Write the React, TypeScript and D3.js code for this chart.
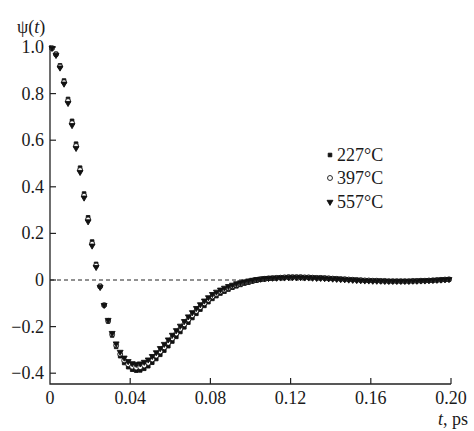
import { useEffect, useRef } from "react";
import * as d3 from "d3";

// sampling times, ps
const times: number[] = d3.range(100).map((k) => 0.001 + 0.002 * k);

const psi227: number[] = [
	0.995, 0.971, 0.921, 0.856, 0.777, 0.683, 0.585, 0.482, 0.371, 0.269,
	0.165, 0.069, -0.025, -0.108, -0.178, -0.238, -0.287, -0.327, -0.356, -0.374,
	-0.385, -0.389, -0.388, -0.381, -0.37, -0.355, -0.339, -0.321, -0.303, -0.284,
	-0.264, -0.244, -0.223, -0.203, -0.183, -0.163, -0.145, -0.127, -0.111, -0.095,
	-0.081, -0.069, -0.058, -0.05, -0.041, -0.033, -0.027, -0.021, -0.015, -0.011,
	-0.006, -0.003, 0.001, 0.003, 0.006, 0.007, 0.009, 0.01, 0.012, 0.013,
	0.013, 0.013, 0.013, 0.012, 0.012, 0.011, 0.01, 0.01, 0.009, 0.008,
	0.007, 0.006, 0.005, 0.004, 0.003, 0.002, 0.001, 0.0, -0.001, -0.002,
	-0.003, -0.003, -0.004, -0.004, -0.005, -0.005, -0.005, -0.005, -0.005, -0.005,
	-0.005, -0.004, -0.004, -0.003, -0.003, -0.002, -0.001, 0.0, 0.001, 0.002,
];

const psi397: number[] = [
	0.995, 0.968, 0.916, 0.849, 0.768, 0.673, 0.575, 0.472, 0.362, 0.26,
	0.156, 0.062, -0.028, -0.108, -0.175, -0.233, -0.28, -0.318, -0.345, -0.362,
	-0.372, -0.376, -0.374, -0.367, -0.356, -0.341, -0.325, -0.307, -0.289, -0.27,
	-0.25, -0.23, -0.21, -0.19, -0.17, -0.151, -0.133, -0.116, -0.1, -0.085,
	-0.071, -0.06, -0.05, -0.042, -0.034, -0.027, -0.021, -0.016, -0.011, -0.007,
	-0.003, 0.0, 0.003, 0.005, 0.007, 0.008, 0.009, 0.01, 0.011, 0.012,
	0.012, 0.012, 0.012, 0.011, 0.011, 0.01, 0.009, 0.009, 0.008, 0.007,
	0.006, 0.005, 0.004, 0.003, 0.002, 0.001, 0.0, -0.001, -0.002, -0.002,
	-0.003, -0.003, -0.004, -0.004, -0.005, -0.005, -0.005, -0.005, -0.005, -0.005,
	-0.004, -0.004, -0.003, -0.003, -0.002, -0.001, 0.0, 0.001, 0.002, 0.003,
];

const psi557: number[] = [
	0.995, 0.965, 0.911, 0.842, 0.759, 0.664, 0.566, 0.463, 0.353, 0.251,
	0.147, 0.055, -0.031, -0.108, -0.172, -0.228, -0.273, -0.309, -0.334, -0.349,
	-0.358, -0.361, -0.359, -0.352, -0.342, -0.327, -0.311, -0.293, -0.275, -0.256,
	-0.236, -0.216, -0.197, -0.177, -0.157, -0.139, -0.121, -0.105, -0.089, -0.075,
	-0.061, -0.051, -0.042, -0.034, -0.027, -0.021, -0.015, -0.011, -0.007, -0.003,
	0.0, 0.003, 0.005, 0.007, 0.008, 0.009, 0.009, 0.01, 0.01, 0.011,
	0.011, 0.011, 0.011, 0.01, 0.01, 0.009, 0.008, 0.008, 0.007, 0.006,
	0.005, 0.004, 0.003, 0.002, 0.001, 0.0, -0.001, -0.002, -0.003, -0.003,
	-0.004, -0.004, -0.004, -0.005, -0.005, -0.005, -0.005, -0.005, -0.005, -0.005,
	-0.004, -0.004, -0.003, -0.003, -0.002, -0.001, 0.0, 0.001, 0.002, 0.003,
];

const legendLabels = ["227°C", "397°C", "557°C"];
const xTicks = [0, 0.04, 0.08, 0.12, 0.16, 0.2];
const xTickLabels = ["0", "0.04", "0.08", "0.12", "0.16", "0.20"];
const yTicks = [1.0, 0.8, 0.6, 0.4, 0.2, 0, -0.2, -0.4];
const yTickLabels = ["1.0", "0.8", "0.6", "0.4", "0.2", "0", "−0.2", "−0.4"];

const width = 474;
const height = 431;
const font = "Liberation Serif, Times New Roman, Times, serif";

export default function App() {
	const svgRef = useRef<SVGSVGElement>(null);

	useEffect(() => {
		if (!svgRef.current) return;
		const svg = d3.select(svgRef.current);
		svg.selectAll("*").remove();

		const x = d3.scaleLinear().domain([0, 0.2]).range([50, 451]);
		const y = d3.scaleLinear().domain([-0.4, 1.0]).range([373.2, 47]);
		const axisY = 384;
		const axisTop = 45;

		// zero reference
		svg.append("line")
			.attr("x1", x(0))
			.attr("x2", x(0.2))
			.attr("y1", y(0))
			.attr("y2", y(0))
			.attr("stroke", "#222")
			.attr("stroke-width", 1)
			.attr("stroke-dasharray", "4,3");

		// axes lines
		svg.append("path")
			.attr("d", `M${x(0)},${axisTop}V${axisY}H${x(0.2)}`)
			.attr("fill", "none")
			.attr("stroke", "#222")
			.attr("stroke-width", 1.3);

		const yAxis = svg.append("g");
		yTicks.forEach((v, i) => {
			yAxis.append("line")
				.attr("x1", x(0))
				.attr("x2", x(0) + 6)
				.attr("y1", y(v))
				.attr("y2", y(v))
				.attr("stroke", "#222")
				.attr("stroke-width", 1.2);
			yAxis.append("text")
				.attr("x", x(0) - 6)
				.attr("y", y(v) + 6)
				.attr("text-anchor", "end")
				.attr("font-family", font)
				.attr("font-size", 18)
				.attr("fill", "#1a1a1a")
				.text(yTickLabels[i]);
		});

		const xAxis = svg.append("g");
		xTicks.forEach((v, i) => {
			if (i > 0) {
				xAxis.append("line")
					.attr("x1", x(v))
					.attr("x2", x(v))
					.attr("y1", axisY)
					.attr("y2", axisY - 6)
					.attr("stroke", "#222")
					.attr("stroke-width", 1.2);
			}
			xAxis.append("text")
				.attr("x", x(v))
				.attr("y", axisY + 20)
				.attr("text-anchor", "middle")
				.attr("font-family", font)
				.attr("font-size", 18)
				.attr("fill", "#1a1a1a")
				.text(xTickLabels[i]);
		});

		// axis titles
		const yTitle = svg.append("text")
			.attr("x", 17)
			.attr("y", 33)
			.attr("font-family", font)
			.attr("font-size", 18)
			.attr("fill", "#1a1a1a");
		yTitle.append("tspan").text("ψ(");
		yTitle.append("tspan").attr("font-style", "italic").text("t");
		yTitle.append("tspan").text(")");

		const xTitle = svg.append("text")
			.attr("x", 468)
			.attr("y", 425)
			.attr("text-anchor", "end")
			.attr("font-family", font)
			.attr("font-size", 18)
			.attr("fill", "#1a1a1a");
		xTitle.append("tspan").attr("font-style", "italic").text("t");
		xTitle.append("tspan").text(", ps");

		const square = d3.symbol().type(d3.symbolSquare).size(13);
		const circle = d3.symbol().type(d3.symbolCircle).size(19);
		const triangle = d3.symbol().type(d3.symbolTriangle).size(15);

		const drawSeries = (
			values: number[],
			shape: d3.Symbol<any, any>,
			fill: string,
			rotate: number,
		) => {
			svg.append("g")
				.selectAll("path")
				.data(values)
				.join("path")
				.attr("d", shape)
				.attr(
					"transform",
					(d, i) => `translate(${x(times[i])},${y(d)}) rotate(${rotate})`,
				)
				.attr("fill", fill)
				.attr("stroke", "#111")
				.attr("stroke-width", 0.9);
		};

		drawSeries(psi227, square, "#111", 0);
		drawSeries(psi397, circle, "#fff", 0);
		drawSeries(psi557, triangle, "#111", 180);

		// legend
		const legendX = 330;
		const legendRows = [155, 178, 202];
		const shapes = [square, circle, triangle];
		const fills = ["#111", "#fff", "#111"];
		legendLabels.forEach((label, i) => {
			svg.append("path")
				.attr("d", shapes[i])
				.attr(
					"transform",
					`translate(${legendX},${legendRows[i]}) rotate(${i === 2 ? 180 : 0})`,
				)
				.attr("fill", fills[i])
				.attr("stroke", "#111")
				.attr("stroke-width", 0.9);
			svg.append("text")
				.attr("x", legendX + 7)
				.attr("y", legendRows[i] + 6)
				.attr("font-family", font)
				.attr("font-size", 18)
				.attr("fill", "#1a1a1a")
				.text(label);
		});
	}, []);

	return (
		<svg
			ref={svgRef}
			width={width}
			height={height}
			style={{ position: "absolute", left: 0, top: 0, background: "#fff" }}
		/>
	);
}
